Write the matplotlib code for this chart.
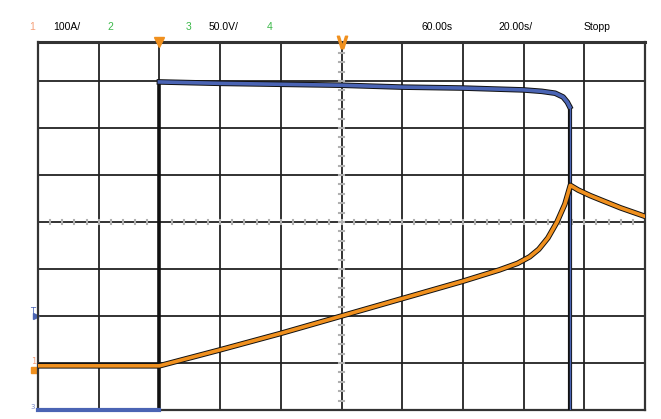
import numpy as np
import matplotlib.pyplot as plt
import matplotlib.patheffects as pe

# time axis in divisions (10 div), amplitude in divisions from bottom
ch3_t = [2.0, 3.0, 4.0, 5.0, 6.0, 7.0, 8.0, 8.3, 8.52, 8.65, 8.72, 8.76]
ch3_v = [6.98, 6.95, 6.93, 6.91, 6.87, 6.85, 6.81, 6.78, 6.74, 6.66, 6.55, 6.45]
ch3_low_t = [0.0, 2.0]
ch3_low_v = [0.0, 0.0]

ch1_t = [0.0, 2.0, 3.0, 4.0, 5.0, 6.0, 7.0, 7.6, 7.9, 8.1, 8.25, 8.4, 8.55, 8.68, 8.77,
         8.9, 9.1, 9.31, 9.6, 10.0]
ch1_v = [0.94, 0.94, 1.28, 1.63, 2.00, 2.37, 2.74, 2.98, 3.12, 3.26, 3.42, 3.66, 4.00, 4.38, 4.78,
         4.68, 4.56, 4.45, 4.30, 4.12]

header = [("1", 29, "#f4a07a"), ("100A/", 53, "black"), ("2", 107, "#3cb84a"),
          ("3", 186, "#3cb84a"), ("50.0V/", 209, "black"), ("4", 267, "#3cb84a"),
          ("60.00s", 422, "black"), ("20.00s/", 498, "black"), ("Stopp", 584, "black")]

fig = plt.figure(figsize=(6.61, 4.19), dpi=100)
ax = fig.add_axes([38 / 661, 9 / 419, 607 / 661, 368 / 419])
ax.set_xlim(0, 10)
ax.set_ylim(0, 368 / 47)

# grid
for x in range(1, 10):
    ax.axvline(x, color="#222222", lw=1.3, zorder=1)
for y in range(1, 8):
    ax.axhline(y, color="#222222", lw=1.3, zorder=1)

# minor ticks on center lines
for x in np.arange(0, 10.01, 0.2):
    ax.plot([x, x], [4 - 0.04, 4 + 0.04], color="#b0b0b0", lw=1.5, zorder=1.5)
for y in np.arange(0, 7.9, 0.2):
    ax.plot([5 - 0.04, 5 + 0.04], [y, y], color="#b0b0b0", lw=1.5, zorder=1.5)

for s in ax.spines.values():
    s.set_color("#333333")
    s.set_linewidth(1.6)
ax.spines["top"].set_linewidth(2.2)
ax.set_xticks([])
ax.set_yticks([])

outline = [pe.Stroke(linewidth=4, foreground="#111111"), pe.Normal()]
# channel 3 (voltage)
ax.plot([2.0, 2.0], [0.0, ch3_v[0]], color="#111111", lw=2.6, zorder=3)
ax.plot([ch3_t[-1], ch3_t[-1]], [0.0, ch3_v[-1]], color="#111111", lw=3, zorder=3)
ax.plot([ch3_t[-1], ch3_t[-1]], [0.0, ch3_v[-1]], color="#4a64b4", lw=1, zorder=3.1)
ax.plot(ch3_t, ch3_v, color="#4a64b4", lw=2.6, zorder=3, path_effects=outline)
ax.plot(ch3_low_t, ch3_low_v, color="#4a64b4", lw=3, zorder=3, clip_on=False)
# channel 1 (current)
ax.plot(ch1_t, ch1_v, color="#f0901e", lw=2.6, zorder=4, path_effects=outline)

# trigger markers at top
ax.plot([2.0], [368 / 47], marker="v", ms=7, color="#f0901e", clip_on=False, zorder=5)
ax.plot([5.0], [368 / 47], marker="$\\vee$", ms=9, color="#f0901e", clip_on=False, zorder=5)

# channel markers on the left
ax.text(-0.02, 0.94, "1", color="#f4a07a", fontsize=6, ha="right", va="bottom")
ax.plot([-0.07], [0.85], marker="s", ms=4, color="#f0901e", clip_on=False)
ax.text(-0.05, 2.1, "T", color="#4a64b4", fontsize=6, ha="right", va="center")
ax.plot([-0.04], [2.0], marker=">", ms=4, color="#4a64b4", clip_on=False)
ax.text(-0.05, 0.0, "3", color="#7a8ac8", fontsize=5, ha="right", va="bottom")

for txt, xp, col in header:
    fig.text(xp / 661, 1 - 27 / 419, txt, color=col, fontsize=7.5, ha="left", va="center",
             family="Liberation Sans")

fig.savefig("out.png", dpi=100)
